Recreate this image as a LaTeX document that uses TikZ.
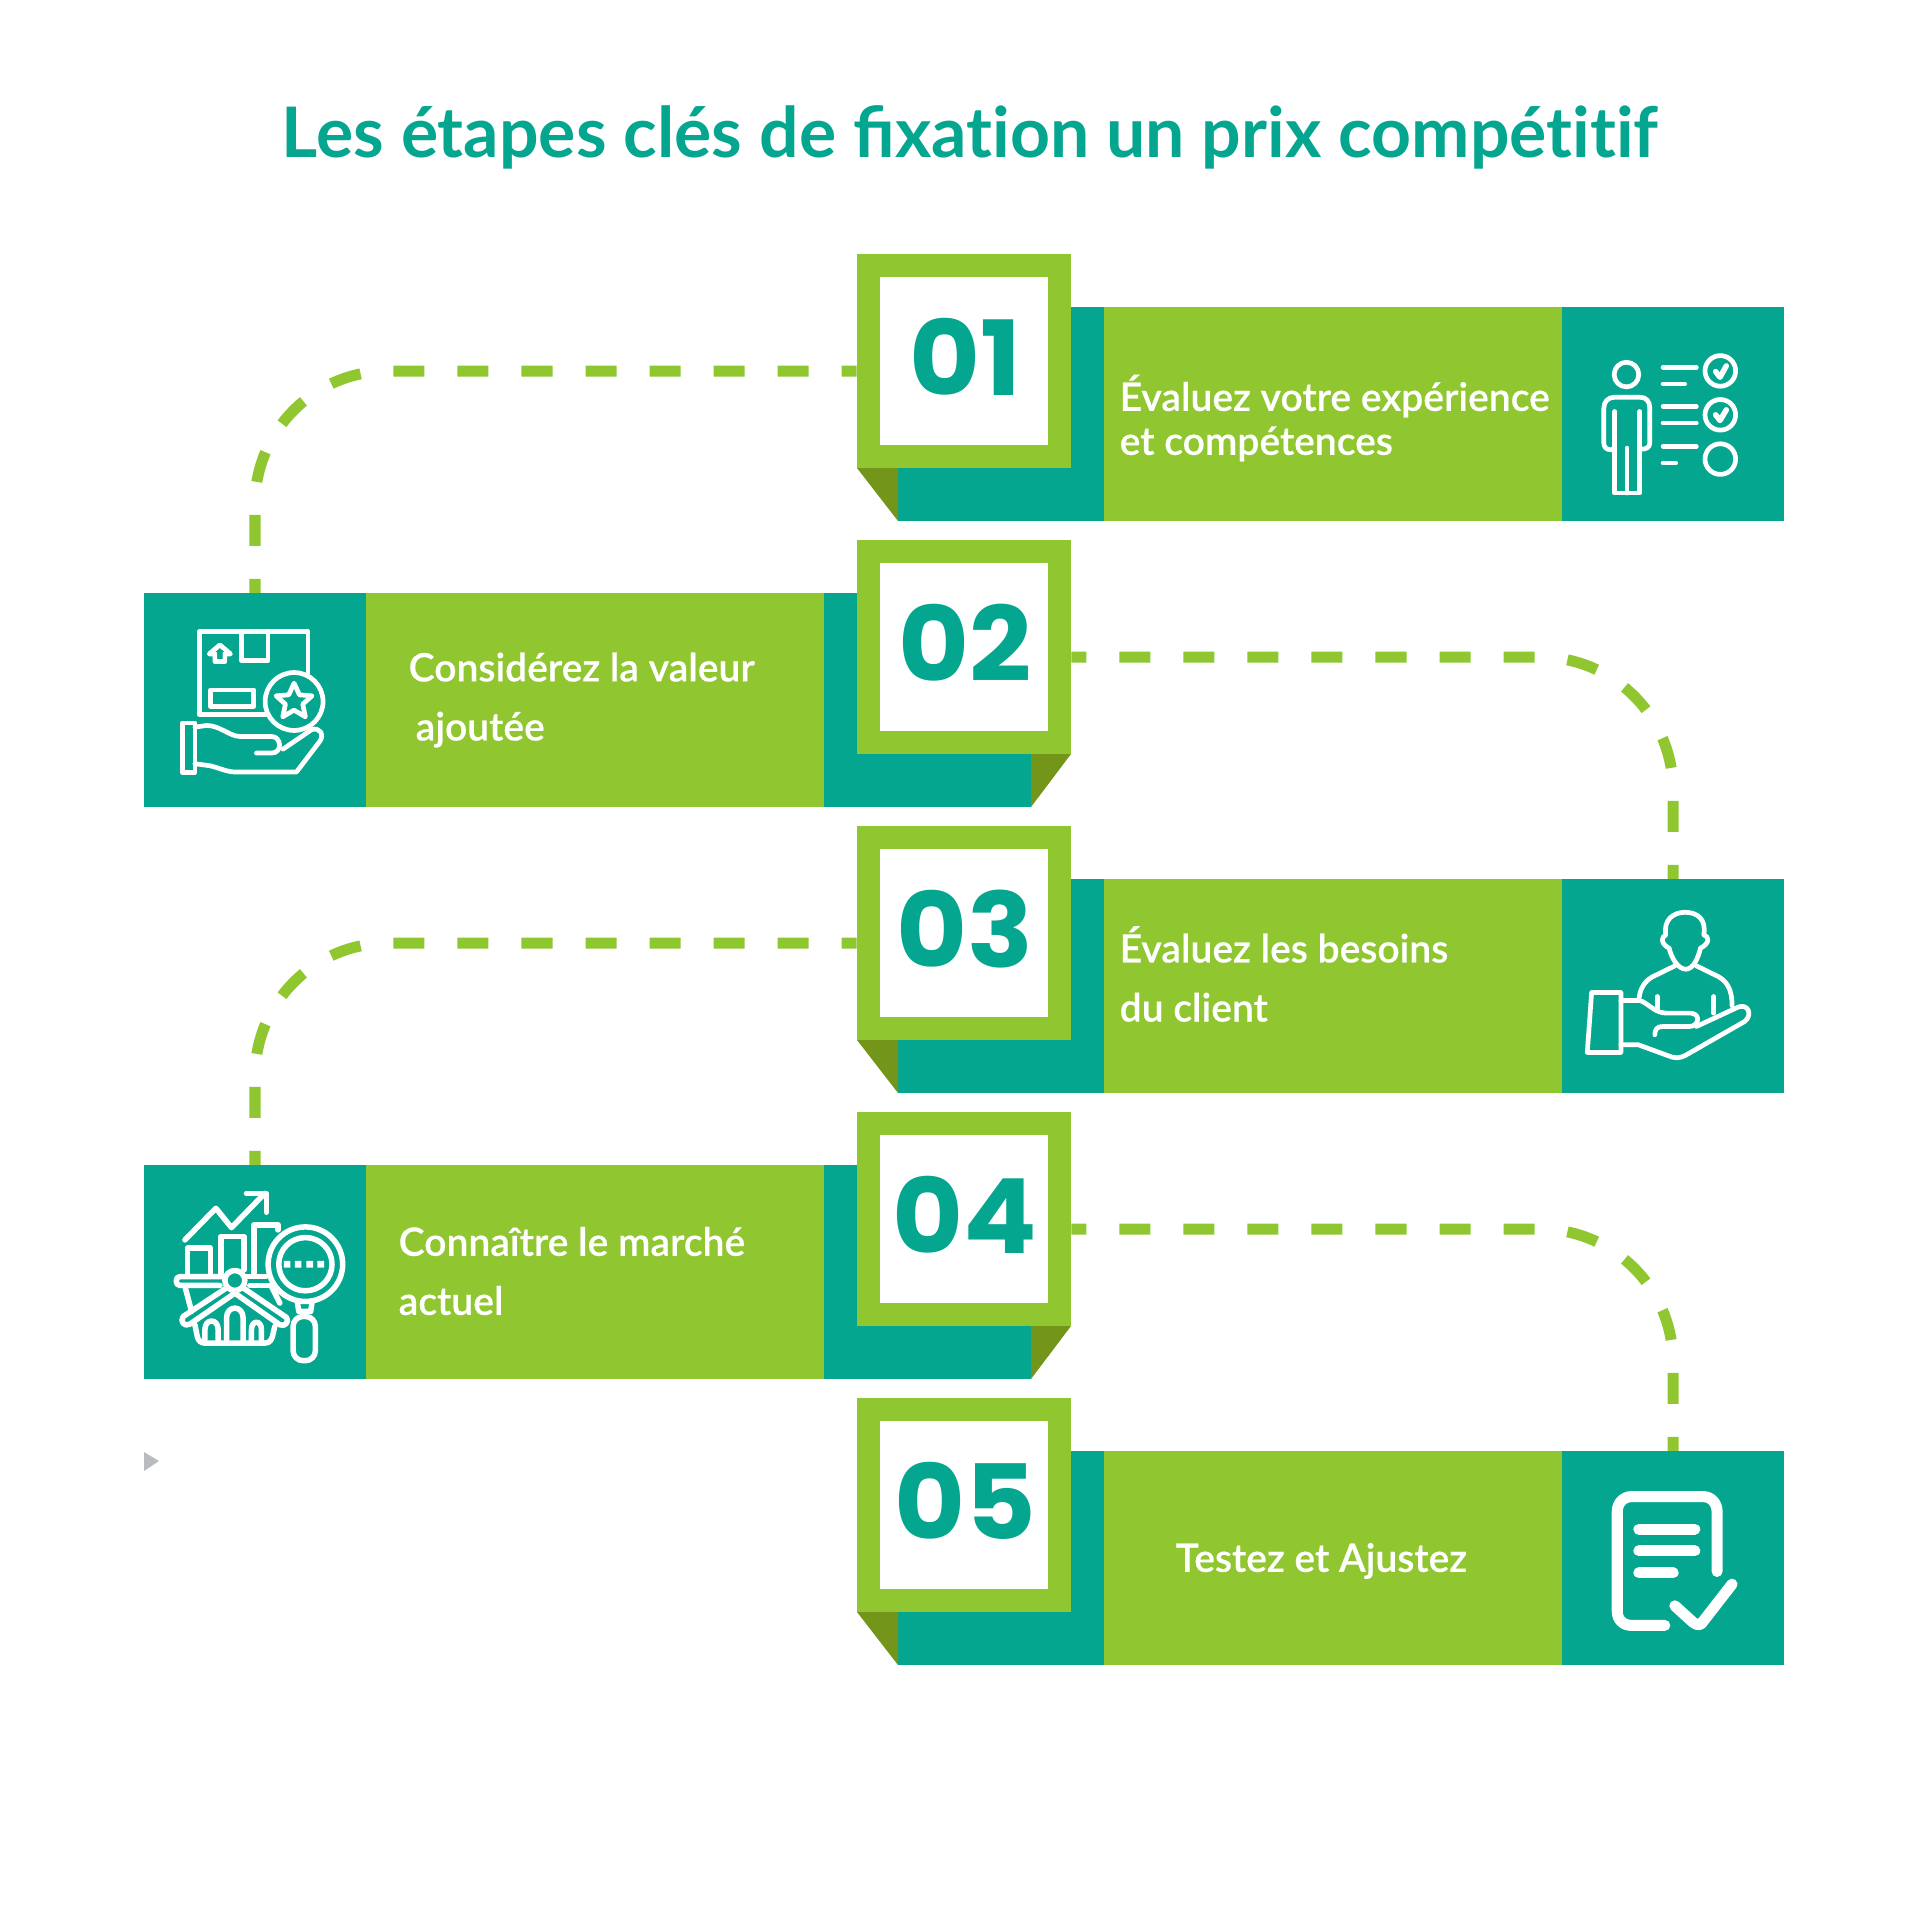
\documentclass[tikz,border=0pt]{standalone}
\usepackage{fontspec}
\setmainfont{Lato}
\newfontfamily\labelfont{Lato Semibold}[FakeBold=0.4]
\newfontfamily\numfont{Poppins}[BoldFont=* Bold,BoldFeatures={FakeStretch=1.05}]
\definecolor{leaf}{HTML}{90C731}
\definecolor{sea}{HTML}{05A690}
\definecolor{olive}{HTML}{73961A}
\definecolor{greymark}{HTML}{B8BBBF}
\tikzset{
  panel/.style={inner sep=0pt,outer sep=0pt,minimum height=2.14cm},
  seapanel/.style={panel,fill=sea},
  leafpanel/.style={panel,fill=leaf},
  numbox/.style={draw=leaf,fill=white,line width=0.23cm,minimum size=1.915cm,inner sep=0pt},
  numtext/.style={text=sea,inner sep=0pt,anchor=base,font=\numfont\bfseries\fontsize{29.5}{31}\selectfont},
  steptext/.style={text=white,inner sep=0pt,anchor=west,align=left,font=\labelfont\fontsize{11.1}{12.5}\selectfont},
  linkline/.style={draw=leaf,line width=0.11cm,dash pattern=on 0.31cm off 0.33cm,dash phase=0.16cm,rounded corners=1.33cm},
  iconline/.style={draw=white,line width=0.047cm,line cap=round,line join=round},
  zoomed/.style={x=0.003333cm,y=-0.003333cm}
}
\begin{document}
\begin{tikzpicture}[x=0.01cm,y=-0.01cm]
\useasboundingbox (0,0) rectangle (1920,1920);
\fill[white] (0,0) rectangle (1920,1920);
\node[text=sea,inner sep=0pt,anchor=base,font=\bfseries\fontsize{19.82}{24}\selectfont] (title) at (970,157) {Les étapes clés de fixat\kern0pt ion un prix compét\kern0pt it\kern0pt if};

% right-hand rows
\foreach \r/\yy in {1/307,3/879,5/1451}{
  \fill[sea] (898,\yy) rectangle (1104,\yy+214);
  \fill[olive] (857,\yy+161) -- (898,\yy+161) -- (898,\yy+214) -- cycle;
}
% left-hand rows
\foreach \r/\yy in {2/593,4/1165}{
  \fill[sea] (824,\yy) rectangle (1031,\yy+214);
  \fill[olive] (1071,\yy+161) -- (1031,\yy+161) -- (1031,\yy+214) -- cycle;
}
\node[leafpanel,minimum width=4.58cm] (bar1) at (1333,414) {};
\node[leafpanel,minimum width=4.58cm] (bar2) at (595,700) {};
\node[leafpanel,minimum width=4.58cm] (bar3) at (1333,986) {};
\node[leafpanel,minimum width=4.58cm] (bar4) at (595,1272) {};
\node[leafpanel,minimum width=4.58cm] (bar5) at (1333,1558) {};
\node[seapanel,minimum width=2.22cm] (ic1) at (1673,414) {};
\node[seapanel,minimum width=2.22cm] (ic2) at (255,700) {};
\node[seapanel,minimum width=2.22cm] (ic3) at (1673,986) {};
\node[seapanel,minimum width=2.22cm] (ic4) at (255,1272) {};
\node[seapanel,minimum width=2.22cm] (ic5) at (1673,1558) {};

\node[numbox] (n1) at (964,361) {};
\node[numbox] (n2) at (964,647) {};
\node[numbox] (n3) at (964,933) {};
\node[numbox] (n4) at (964,1219) {};
\node[numbox] (n5) at (964,1505) {};
\node[numtext] (t1) at ([yshift=-0.345cm,xshift=0.01cm]n1.center) {01};
\node[numtext] (t2) at ([yshift=-0.345cm,xshift=0.01cm]n2.center) {02};
\node[numtext] (t3) at ([yshift=-0.345cm,xshift=0.01cm]n3.center) {03};
\node[numtext] (t4) at ([yshift=-0.345cm,xshift=0.01cm]n4.center) {04};
\node[numtext] (t5) at ([yshift=-0.345cm,xshift=0.01cm]n5.center) {05};

\draw[linkline] ([yshift=-0.1cm]n1.west) -| (ic2.north);
\draw[linkline] ([yshift=-0.1cm]n2.east) -| (ic3.north);
\draw[linkline] ([yshift=-0.1cm]n3.west) -| (ic4.north);
\draw[linkline] ([yshift=-0.1cm]n4.east) -| (ic5.north);

\node[steptext] (s1) at (1119,418) {Évaluez votre expérience\\et compétences};
\node[steptext] (s2) at (408,700) {Considérez la valeur\\[4.3pt]\hspace*{0.07cm}ajoutée};
\node[steptext] (s3) at (1119,974) {Évaluez les besoins\\[4.3pt]du client};
\node[steptext] (s4) at (398,1271) {Connaître le marché\\[4.3pt]actuel};
\node[steptext] (s5) at (1175,1561) {Testez et Ajustez};

\fill[greymark] (144,1452) -- (159,1461) -- (144,1471) -- cycle;

% icon 1
\begin{scope}[shift={(1500,300)},zoomed]
\draw[iconline] (380,224) circle (37);
\draw[iconline] (345,448) -- (332,450) .. controls (318,450) and (312,440) .. (312,430) -- (312,325) .. controls (312,305) and (325,292) .. (345,292) -- (420,292) .. controls (440,292) and (450,305) .. (450,325) -- (450,430) .. controls (450,442) and (440,450) .. (420,448);
\draw[iconline] (345,335) -- (345,580) -- (420,580) -- (420,335);
\draw[iconline] (382,445) -- (382,580);
\draw[iconline] (490,202) -- (590,202) (490,252) -- (555,252) (490,320) -- (590,320) (490,370) -- (590,370) (490,440) -- (590,440) (490,490) -- (528,490);
\draw[iconline] (662,213) circle (46) (662,345) circle (46) (662,478) circle (46);
\draw[iconline,line width=0.055cm] (648,215) -- (661,232) -- (680,198) (648,345) -- (661,362) -- (680,330);
\end{scope}

% icon 2
\begin{scope}[shift={(140,590)},zoomed]
\draw[iconline] (505,250) -- (505,125) -- (178,125) -- (178,375) -- (378,375);
\draw[iconline] (305,125) -- (305,212) -- (385,212) -- (385,125);
\draw[iconline] (240,165) -- (272,192) -- (255,192) -- (255,215) -- (225,215) -- (225,192) -- (208,192) -- cycle;
\draw[iconline] (212,300) rectangle (342,350);
\draw[iconline] (463,335) circle (87);
\draw[iconline] (463,280) -- (479,315) -- (517,318) -- (489,343) -- (497,381) -- (463,361) -- (429,381) -- (437,343) -- (409,318) -- (447,315) -- cycle;
\draw[iconline] (128,400) rectangle (165,548);
\draw[iconline] (165,412) -- (200,407) .. controls (240,407) and (270,440) .. (300,440) -- (395,440) .. controls (425,440) and (430,490) .. (395,490) -- (350,490);
\draw[iconline] (165,522) -- (210,528) .. controls (240,535) and (260,547) .. (290,547) -- (470,547) -- (540,455) .. controls (555,435) and (540,410) .. (515,420) -- (430,478);
\end{scope}

% icon 3
\begin{scope}[shift={(1560,880)},zoomed]
\draw[iconline] (378,268) .. controls (355,268) and (335,235) .. (328,205) .. controls (300,190) and (305,170) .. (318,165) .. controls (310,120) and (340,97) .. (376,97) .. controls (415,97) and (440,120) .. (432,165) .. controls (450,170) and (450,190) .. (422,205) .. controls (415,235) and (400,268) .. (378,268) -- cycle;
\draw[iconline] (345,258) -- (290,285) .. controls (260,297) and (242,320) .. (238,352);
\draw[iconline] (410,258) -- (465,285) .. controls (500,300) and (517,325) .. (517,378);
\draw[iconline] (292,350) -- (292,385) (462,350) -- (462,400);
\draw[iconline] (95,338) -- (183,338) -- (183,518) -- (82,518) -- cycle;
\draw[iconline] (183,362) -- (240,362) .. controls (265,370) and (285,400) .. (320,400) -- (395,400) .. controls (425,405) and (415,440) .. (390,440) -- (310,440) .. controls (290,440) and (285,450) .. (285,465);
\draw[iconline] (183,495) -- (235,495) -- (325,528) .. controls (345,537) and (360,535) .. (375,528) -- (555,425) .. controls (580,405) and (565,370) .. (535,382) -- (410,440);
\end{scope}

% icon 4
\begin{scope}[shift={(140,1165)},zoomed,iconline/.append style={line width=0.055cm}]
\draw[iconline] (135,225) -- (228,130) -- (275,188) -- (375,85);
\draw[iconline] (320,85) -- (380,85) -- (380,142);
\draw[iconline] (142,325) -- (142,250) -- (212,250) -- (212,325);
\draw[iconline] (243,325) -- (243,215) -- (312,215) -- (312,315);
\draw[iconline] (342,325) -- (342,180) -- (415,180) -- (415,195);
\draw[iconline] (255,335) -- (120,335) .. controls (105,335) and (105,362) .. (120,362) -- (240,362);
\draw[iconline] (320,335) -- (378,335) (330,362) -- (392,362);
\draw[iconline] (285,347) circle (30);
\draw[iconline] (262,368) -- (130,455) .. controls (118,470) and (135,488) .. (150,478) -- (285,385) -- (420,480) .. controls (435,488) and (450,470) .. (440,458) -- (308,368);
\draw[iconline] (135,365) -- (155,440) (395,365) -- (420,415);
\draw[iconline] (165,480) -- (172,515) .. controls (175,530) and (185,535) .. (195,535) -- (375,535) .. controls (390,535) and (395,525) .. (398,515) -- (405,485);
\draw[iconline] (195,532) -- (195,495) .. controls (195,460) and (235,460) .. (235,495) -- (235,532);
\draw[iconline] (260,532) -- (260,460) .. controls (260,420) and (310,420) .. (310,460) -- (310,532);
\draw[iconline] (335,532) -- (335,495) .. controls (335,465) and (365,465) .. (365,495) -- (365,532);
\draw[iconline] (497,298) circle (112) (497,298) circle (80);
\fill[white] (432,288) rectangle (452,308) (465,288) rectangle (485,308) (500,288) rectangle (520,308) (533,288) rectangle (553,308);
\draw[iconline] (473,412) -- (477,440) -- (513,440) -- (517,412);
\draw[iconline,rounded corners=0.1cm] (460,455) rectangle (527,588);
\end{scope}

% icon 5
\begin{scope}[shift={(1560,1450)},zoomed,iconline/.append style={line width=0.11cm}]
\draw[iconline] (472,365) -- (472,185) .. controls (472,160) and (455,140) .. (430,140) -- (215,140) .. controls (190,140) and (172,160) .. (172,185) -- (172,485) .. controls (172,510) and (190,527) .. (215,527) -- (315,527);
\draw[iconline] (237,238) -- (405,238) (237,303) -- (405,303) (237,369) -- (340,369);
\draw[iconline] (345,468) -- (400,518) .. controls (415,530) and (425,525) .. (430,515) -- (517,403);
\end{scope}
\end{tikzpicture}
\end{document}
